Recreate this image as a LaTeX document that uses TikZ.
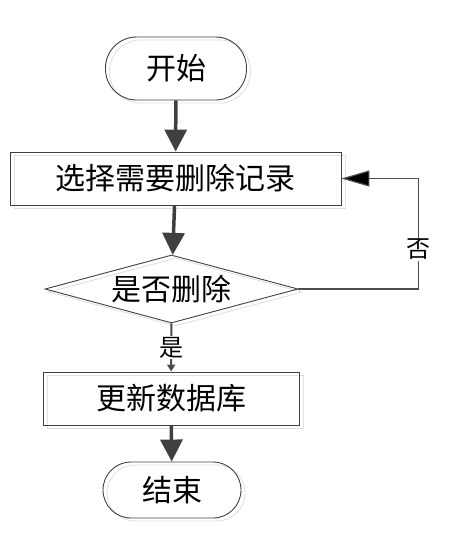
\documentclass[tikz,border=0pt]{standalone}
\usepackage{fontspec}
\newfontfamily\cjk{Noto Sans CJK SC}
\usetikzlibrary{shapes.geometric,arrows.meta,shadows}

\tikzset{
  base/.style={draw=black!75, line width=0.9pt, inner sep=0pt, font=\cjk\fontsize{30pt}{33pt}\selectfont,
    drop shadow={shadow xshift=4pt, shadow yshift=-3pt, fill=none, draw=black!12, opacity=1}},
  term/.style={base, rectangle, rounded corners=28pt},
  proc/.style={base, rectangle},
  ask/.style={base, diamond, aspect=3.72},
  bigarrow/.style={draw=black!75, line width=3.5pt, -{Triangle[length=22pt,width=22pt]}},
  backarrow/.style={draw=black!70, line width=1.2pt, -{Triangle[length=28pt,width=16pt,fill=black]}},
  smallarrow/.style={draw=black!70, line width=2pt, -{Triangle[length=7pt,width=8pt]}},
  tag/.style={fill=white, inner sep=1pt, font=\cjk\fontsize{24pt}{26pt}\selectfont}
}

\begin{document}
\begin{tikzpicture}[x=1pt,y=-1pt]
\useasboundingbox (0,0) rectangle (460,552);

\node[term, minimum width=141pt, minimum height=63pt, rounded corners=31pt] (start) at (176,68.5) {开始};
\node[proc, minimum width=331pt, minimum height=53pt] (select) at (175.5,178.5) {选择需要删除记录};
\node[ask, minimum width=253pt, minimum height=68pt] (check) at (171.5,289) {是否删除};
\node[proc, minimum width=256pt, minimum height=53pt] (update) at (171,398.5) {更新数据库};
\node[term, minimum width=138pt, minimum height=56pt] (stop) at (172,490) {结束};

\draw[bigarrow] (start) -- (select);
\draw[bigarrow] (select) -- (check);
\draw[smallarrow] (check) -- (update) node[tag, pos=0.5] {是};
\draw[bigarrow] (update) -- (stop);

% back loop
\draw[backarrow] (check.east) -- ++(120,0) |- (select.east) node[tag, pos=0.18] {否};

\end{tikzpicture}
\end{document}
